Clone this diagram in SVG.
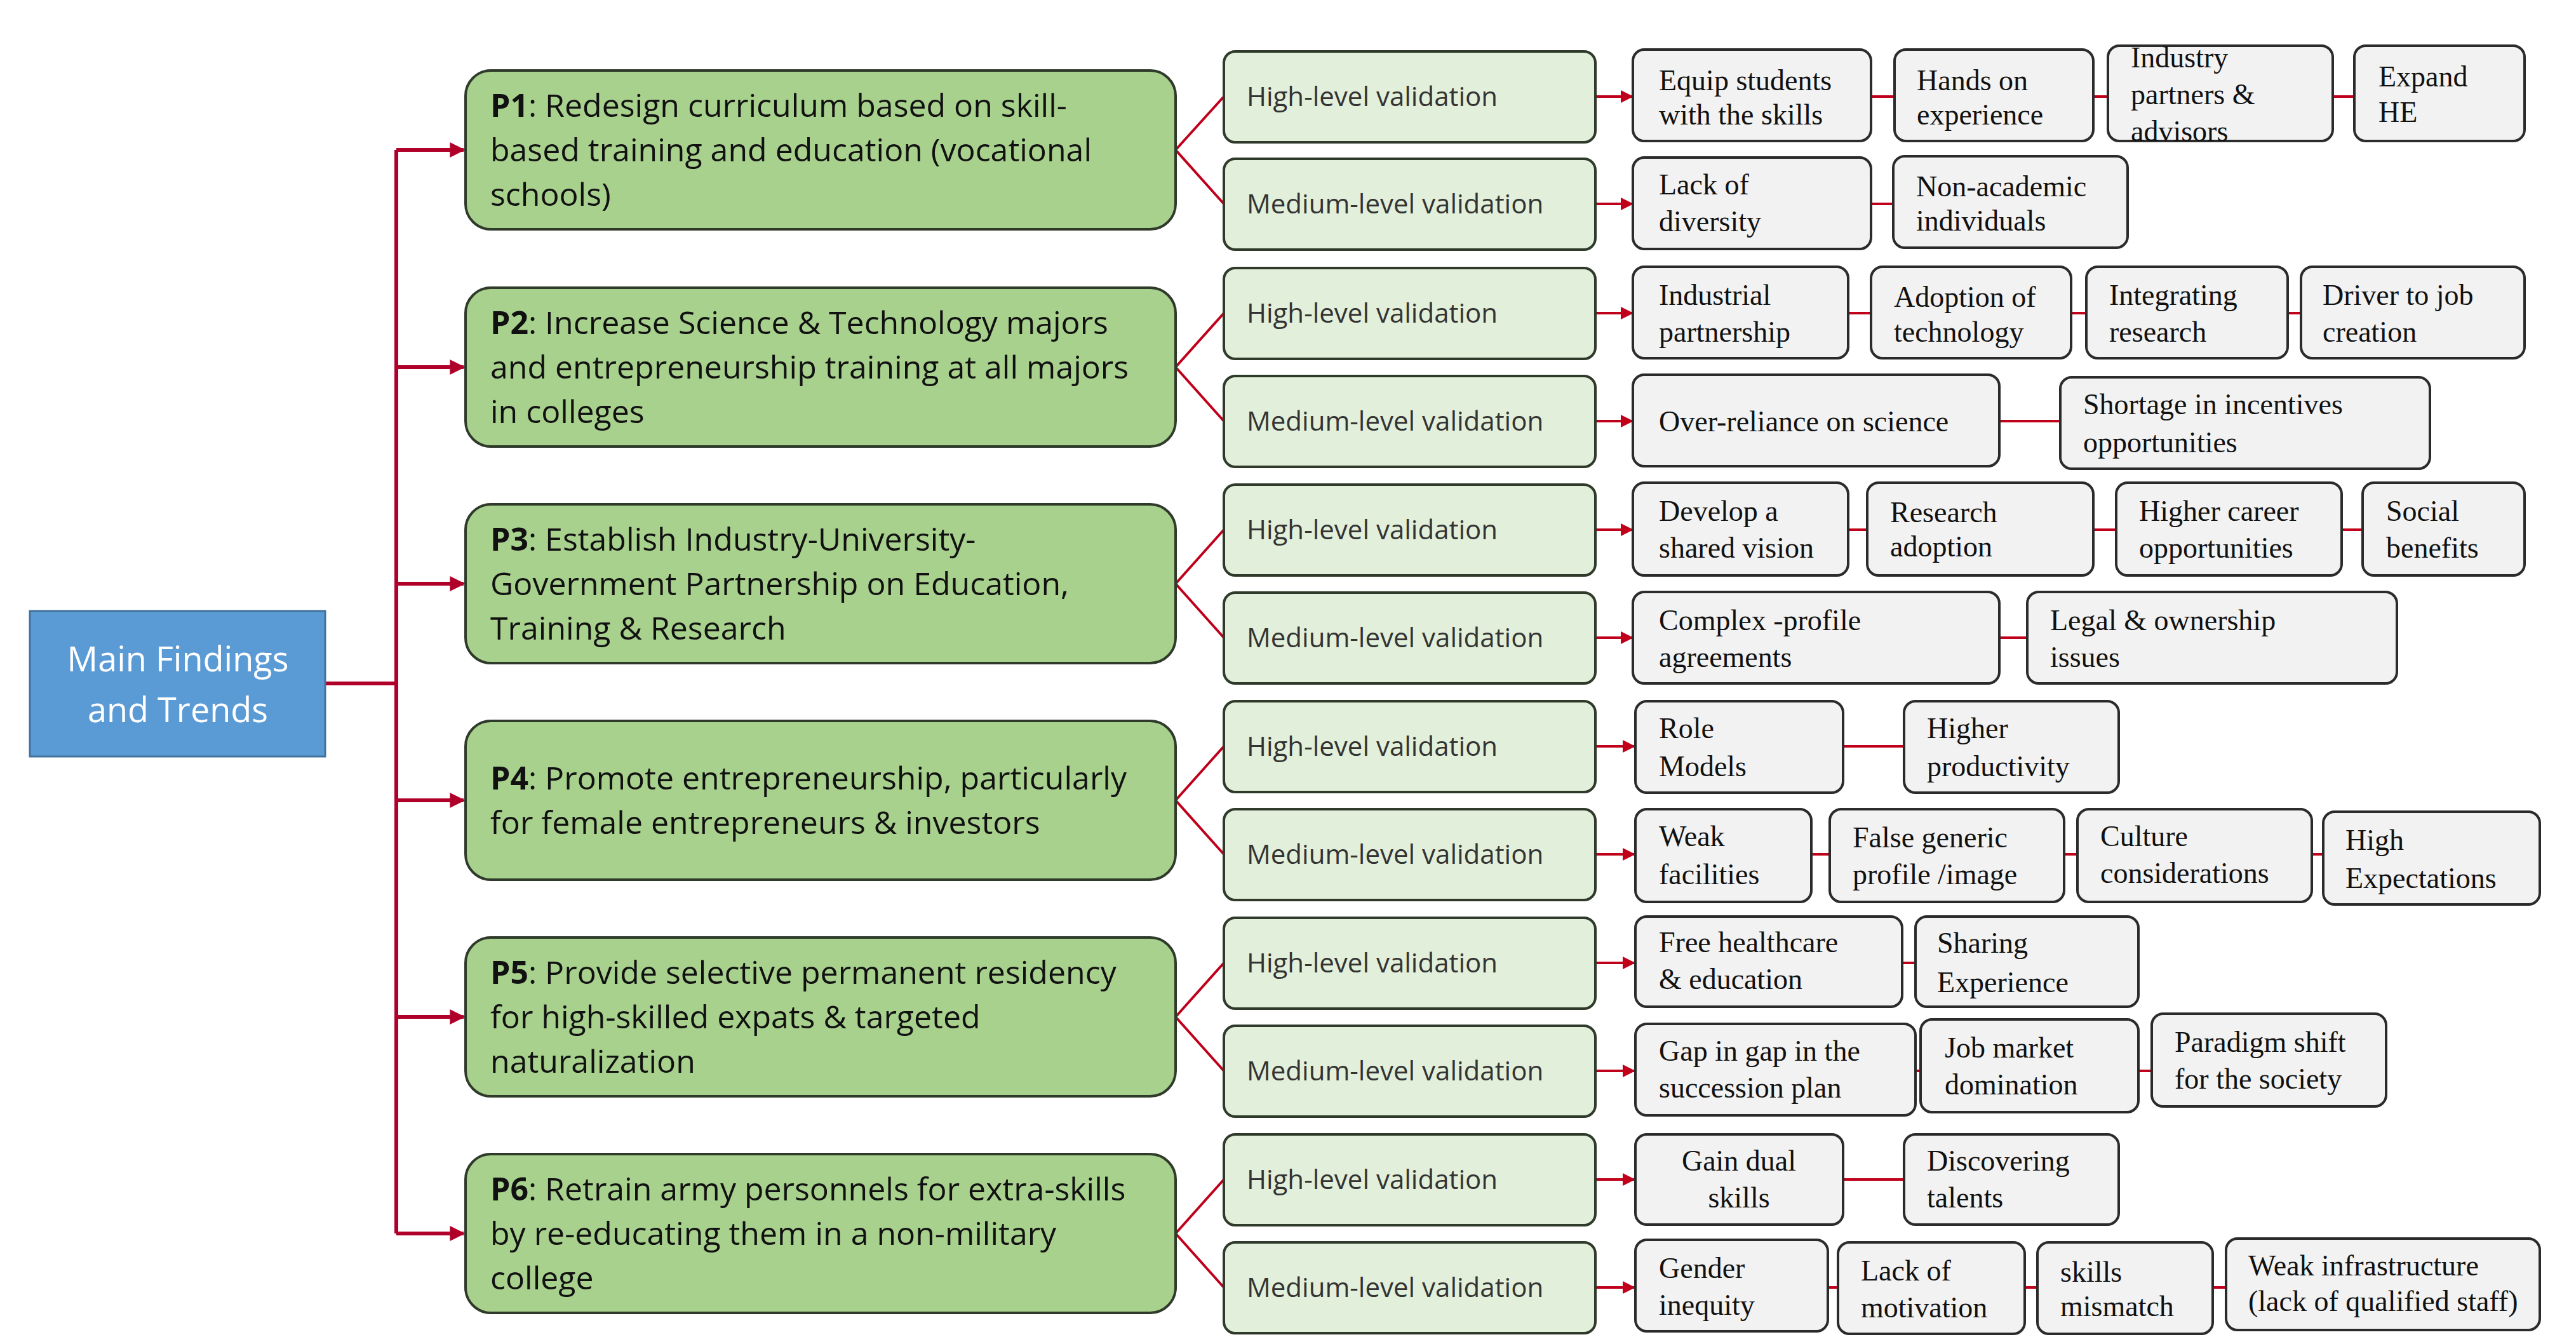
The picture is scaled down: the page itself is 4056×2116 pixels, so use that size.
<svg xmlns="http://www.w3.org/2000/svg" width="4056" height="2116" viewBox="0 0 4056 2116">
<style>
.p{fill:#a9d18e;stroke:#2f3a2a;stroke-width:4}
.v{fill:#e2efda;stroke:#2f3a2a;stroke-width:4}
.i{fill:#f2f2f2;stroke:#2b2b2b;stroke-width:4}
.pt{font-family:"Open Sans","Liberation Sans",sans-serif;font-size:50px;fill:#111}
.vt{font-family:"Open Sans","Liberation Sans",sans-serif;font-size:42px;fill:#333}
.it{font-family:"Liberation Serif",serif;font-size:46px;fill:#111}
.c{stroke:#c0001a;stroke-width:4;fill:none}
.t{stroke:#b0002a;stroke-width:6;fill:none}
.ca{stroke:#c0001a;stroke-width:4;fill:none;marker-end:url(#a)}
.ta{stroke:#b0002a;stroke-width:6;fill:none;marker-end:url(#b)}
</style>
<defs>
<marker id="a" viewBox="0 0 10 10" refX="9" refY="5" markerWidth="5" markerHeight="5" orient="auto"><path d="M0,0L10,5L0,10z" fill="#c0001a"/></marker>
<marker id="b" viewBox="0 0 10 10" refX="9" refY="5" markerWidth="4" markerHeight="4" orient="auto"><path d="M0,0L10,5L0,10z" fill="#b0002a"/></marker>
</defs>
<g id="connectors">
<path class="t" d="M512,1076H624M624,236V1942"/>
<path class="ta" d="M624,236H730"/><path class="ta" d="M624,578H730"/><path class="ta" d="M624,919H730"/><path class="ta" d="M624,1260H730"/><path class="ta" d="M624,1601H730"/><path class="ta" d="M624,1942H730"/>
<path class="c" d="M1851,236L1927,152M1851,236L1927,321M1851,578L1927,493M1851,578L1927,663M1851,919L1927,834M1851,919L1927,1004M1851,1260L1927,1175M1851,1260L1927,1345M1851,1601L1927,1516M1851,1601L1927,1686M1851,1942L1927,1857M1851,1942L1927,2027"/>
<path class="ca" d="M2512,152H2570"/><path class="ca" d="M2512,321H2570"/><path class="ca" d="M2512,493H2570"/><path class="ca" d="M2512,663H2570"/><path class="ca" d="M2512,834H2570"/><path class="ca" d="M2512,1004H2570"/><path class="ca" d="M2512,1175H2573"/><path class="ca" d="M2512,1345H2573"/><path class="ca" d="M2512,1516H2573"/><path class="ca" d="M2512,1686H2573"/><path class="ca" d="M2512,1857H2573"/><path class="ca" d="M2512,2027H2573"/>
<path class="c" d="M2946,152H2983M3296,152H3319M3673,152H3707M2946,321H2981M2910,493H2946M3261,493H3285M3602,493H3623M3148,663H3244M2910,834H2940M3296,834H3332M3687,834H3720M3148,1004H3192M2902,1175H2998M2852,1345H2881M3250,1345H3271M3640,1345H3658M2995,1516H3016M3016,1686H3024M3367,1686H3388M2902,1857H2998M2878,2027H2894M3188,2027H3208M3484,2027H3505"/>
</g>
<g id="main"><rect x="47" y="962" width="465" height="229" fill="#5b9bd5" stroke="#41719c" stroke-width="3"/><text x="280" y="1057" text-anchor="middle" font-family="Open Sans,Liberation Sans,sans-serif" font-size="54" fill="#fff">Main Findings</text><text x="280" y="1137" text-anchor="middle" font-family="Open Sans,Liberation Sans,sans-serif" font-size="54" fill="#fff">and Trends</text></g>
<g id="p1"><rect class="p" x="733" y="111" width="1118" height="250" rx="40"/><text class="pt" x="772" y="184"><tspan font-weight="bold">P1</tspan>: Redesign curriculum based on skill-</text><text class="pt" x="772" y="254">based training and education (vocational</text><text class="pt" x="772" y="324">schools)</text></g>
<g id="p2"><rect class="p" x="733" y="453" width="1118" height="250" rx="40"/><text class="pt" x="772" y="526"><tspan font-weight="bold">P2</tspan>: Increase Science &amp; Technology majors</text><text class="pt" x="772" y="596">and entrepreneurship training at all majors</text><text class="pt" x="772" y="666">in colleges</text></g>
<g id="p3"><rect class="p" x="733" y="794" width="1118" height="250" rx="40"/><text class="pt" x="772" y="867"><tspan font-weight="bold">P3</tspan>: Establish Industry-University-</text><text class="pt" x="772" y="937">Government Partnership on Education,</text><text class="pt" x="772" y="1007">Training &amp; Research</text></g>
<g id="p4"><rect class="p" x="733" y="1135" width="1118" height="250" rx="40"/><text class="pt" x="772" y="1243"><tspan font-weight="bold">P4</tspan>: Promote entrepreneurship, particularly</text><text class="pt" x="772" y="1313">for female entrepreneurs &amp; investors</text></g>
<g id="p5"><rect class="p" x="733" y="1476" width="1118" height="250" rx="40"/><text class="pt" x="772" y="1549"><tspan font-weight="bold">P5</tspan>: Provide selective permanent residency</text><text class="pt" x="772" y="1619">for high-skilled expats &amp; targeted</text><text class="pt" x="772" y="1689">naturalization</text></g>
<g id="p6"><rect class="p" x="733" y="1817" width="1118" height="250" rx="40"/><text class="pt" x="772" y="1890"><tspan font-weight="bold">P6</tspan>: Retrain army personnels for extra-skills</text><text class="pt" x="772" y="1960">by re-educating them in a non-military</text><text class="pt" x="772" y="2030">college</text></g>
<g id="v1h"><rect class="v" x="1927" y="81" width="585" height="143" rx="18"/><text class="vt" x="1963" y="167">High-level validation</text></g>
<g id="v1m"><rect class="v" x="1927" y="250" width="585" height="143" rx="18"/><text class="vt" x="1963" y="336">Medium-level validation</text></g>
<g id="v2h"><rect class="v" x="1927" y="422" width="585" height="143" rx="18"/><text class="vt" x="1963" y="508">High-level validation</text></g>
<g id="v2m"><rect class="v" x="1927" y="592" width="585" height="143" rx="18"/><text class="vt" x="1963" y="678">Medium-level validation</text></g>
<g id="v3h"><rect class="v" x="1927" y="763" width="585" height="143" rx="18"/><text class="vt" x="1963" y="849">High-level validation</text></g>
<g id="v3m"><rect class="v" x="1927" y="933" width="585" height="143" rx="18"/><text class="vt" x="1963" y="1019">Medium-level validation</text></g>
<g id="v4h"><rect class="v" x="1927" y="1104" width="585" height="143" rx="18"/><text class="vt" x="1963" y="1190">High-level validation</text></g>
<g id="v4m"><rect class="v" x="1927" y="1274" width="585" height="143" rx="18"/><text class="vt" x="1963" y="1360">Medium-level validation</text></g>
<g id="v5h"><rect class="v" x="1927" y="1445" width="585" height="143" rx="18"/><text class="vt" x="1963" y="1531">High-level validation</text></g>
<g id="v5m"><rect class="v" x="1927" y="1615" width="585" height="143" rx="18"/><text class="vt" x="1963" y="1701">Medium-level validation</text></g>
<g id="v6h"><rect class="v" x="1927" y="1786" width="585" height="143" rx="18"/><text class="vt" x="1963" y="1872">High-level validation</text></g>
<g id="v6m"><rect class="v" x="1927" y="1956" width="585" height="143" rx="18"/><text class="vt" x="1963" y="2042">Medium-level validation</text></g>
<g id="i11"><rect class="i" x="2571" y="78" width="375" height="144" rx="18"/><text class="it" x="2612" y="142" font-size="42">Equip students</text><text class="it" x="2612" y="196" font-size="42">with the skills</text></g>
<g id="i12"><rect class="i" x="2983" y="78" width="313" height="144" rx="18"/><text class="it" x="3018" y="142" font-size="42">Hands on</text><text class="it" x="3018" y="196" font-size="42">experience</text></g>
<g id="i13"><rect class="i" x="3319" y="72" width="354" height="150" rx="18"/><text class="it" x="3355" y="106">Industry</text><text class="it" x="3355" y="164">partners &amp;</text><text class="it" x="3355" y="222">advisors</text></g>
<g id="i14"><rect class="i" x="3707" y="72" width="268" height="150" rx="18"/><text class="it" x="3745" y="136">Expand</text><text class="it" x="3745" y="192">HE</text></g>
<g id="i15"><rect class="i" x="2571" y="248" width="375" height="144" rx="18"/><text class="it" x="2612" y="306" font-size="50">Lack of</text><text class="it" x="2612" y="364" font-size="50">diversity</text></g>
<g id="i16"><rect class="i" x="2981" y="246" width="369" height="144" rx="18"/><text class="it" x="3017" y="309" font-size="42">Non-academic</text><text class="it" x="3017" y="363" font-size="42">individuals</text></g>
<g id="i21"><rect class="i" x="2571" y="420" width="339" height="144" rx="18"/><text class="it" x="2612" y="480">Industrial</text><text class="it" x="2612" y="538">partnership</text></g>
<g id="i22"><rect class="i" x="2946" y="420" width="315" height="144" rx="18"/><text class="it" x="2982" y="483" font-size="43">Adoption of</text><text class="it" x="2982" y="538" font-size="43">technology</text></g>
<g id="i23"><rect class="i" x="3285" y="420" width="317" height="144" rx="18"/><text class="it" x="3321" y="480">Integrating</text><text class="it" x="3321" y="538">research</text></g>
<g id="i24"><rect class="i" x="3623" y="420" width="352" height="144" rx="18"/><text class="it" x="3657" y="480">Driver to job</text><text class="it" x="3657" y="538">creation</text></g>
<g id="i25"><rect class="i" x="2571" y="590" width="577" height="144" rx="18"/><text class="it" x="2612" y="679">Over-reliance on science</text></g>
<g id="i26"><rect class="i" x="3244" y="594" width="582" height="144" rx="18"/><text class="it" x="3280" y="652">Shortage in incentives</text><text class="it" x="3280" y="712">opportunities</text></g>
<g id="i31"><rect class="i" x="2571" y="760" width="339" height="146" rx="18"/><text class="it" x="2612" y="820">Develop a</text><text class="it" x="2612" y="878">shared vision</text></g>
<g id="i32"><rect class="i" x="2940" y="760" width="356" height="146" rx="18"/><text class="it" x="2976" y="822" font-size="42">Research</text><text class="it" x="2976" y="876" font-size="42">adoption</text></g>
<g id="i33"><rect class="i" x="3332" y="760" width="355" height="146" rx="18"/><text class="it" x="3368" y="820">Higher career</text><text class="it" x="3368" y="878">opportunities</text></g>
<g id="i34"><rect class="i" x="3720" y="760" width="255" height="146" rx="18"/><text class="it" x="3757" y="820">Social</text><text class="it" x="3757" y="878">benefits</text></g>
<g id="i35"><rect class="i" x="2571" y="932" width="577" height="144" rx="18"/><text class="it" x="2612" y="992">Complex -profile</text><text class="it" x="2612" y="1050">agreements</text></g>
<g id="i36"><rect class="i" x="3192" y="932" width="582" height="144" rx="18"/><text class="it" x="3228" y="992">Legal &amp; ownership</text><text class="it" x="3228" y="1050">issues</text></g>
<g id="i41"><rect class="i" x="2575" y="1104" width="327" height="144" rx="18"/><text class="it" x="2612" y="1162" font-size="50">Role</text><text class="it" x="2612" y="1222" font-size="50">Models</text></g>
<g id="i42"><rect class="i" x="2998" y="1104" width="338" height="144" rx="18"/><text class="it" x="3034" y="1162" font-size="50">Higher</text><text class="it" x="3034" y="1222" font-size="50">productivity</text></g>
<g id="i43"><rect class="i" x="2575" y="1274" width="277" height="146" rx="18"/><text class="it" x="2612" y="1332" font-size="50">Weak</text><text class="it" x="2612" y="1392" font-size="50">facilities</text></g>
<g id="i44"><rect class="i" x="2881" y="1274" width="369" height="146" rx="18"/><text class="it" x="2917" y="1334" fill="#444">False generic</text><text class="it" x="2917" y="1392" fill="#444">profile /image</text></g>
<g id="i45"><rect class="i" x="3271" y="1274" width="369" height="146" rx="18"/><text class="it" x="3307" y="1332" fill="#444">Culture</text><text class="it" x="3307" y="1390" fill="#444">considerations</text></g>
<g id="i46"><rect class="i" x="3658" y="1278" width="341" height="146" rx="18"/><text class="it" x="3693" y="1338" font-size="50">High</text><text class="it" x="3693" y="1398" font-size="50">Expectations</text></g>
<g id="i51"><rect class="i" x="2575" y="1443" width="420" height="142" rx="18"/><text class="it" x="2612" y="1499">Free healthcare</text><text class="it" x="2612" y="1557">&amp; education</text></g>
<g id="i52"><rect class="i" x="3016" y="1443" width="351" height="142" rx="18"/><text class="it" x="3050" y="1500" font-size="54">Sharing</text><text class="it" x="3050" y="1562" font-size="54">Experience</text></g>
<g id="i53"><rect class="i" x="2575" y="1612" width="441" height="144" rx="18"/><text class="it" x="2612" y="1670">Gap in gap in the</text><text class="it" x="2612" y="1728">succession plan</text></g>
<g id="i54"><rect class="i" x="3024" y="1605" width="343" height="146" rx="18"/><text class="it" x="3062" y="1665">Job market</text><text class="it" x="3062" y="1723">domination</text></g>
<g id="i55"><rect class="i" x="3388" y="1596" width="369" height="146" rx="18"/><text class="it" x="3424" y="1656">Paradigm shift</text><text class="it" x="3424" y="1714">for the society</text></g>
<g id="i61"><rect class="i" x="2575" y="1786" width="327" height="142" rx="18"/><text class="it" x="2738" y="1843" text-anchor="middle">Gain dual</text><text class="it" x="2738" y="1901" text-anchor="middle">skills</text></g>
<g id="i62"><rect class="i" x="2998" y="1786" width="338" height="142" rx="18"/><text class="it" x="3034" y="1843">Discovering</text><text class="it" x="3034" y="1901">talents</text></g>
<g id="i63"><rect class="i" x="2575" y="1952" width="303" height="144" rx="18"/><text class="it" x="2612" y="2012">Gender</text><text class="it" x="2612" y="2070">inequity</text></g>
<g id="i64"><rect class="i" x="2894" y="1956" width="294" height="144" rx="18"/><text class="it" x="2930" y="2016" font-size="50">Lack of</text><text class="it" x="2930" y="2074" font-size="50">motivation</text></g>
<g id="i65"><rect class="i" x="3208" y="1956" width="276" height="144" rx="18"/><text class="it" x="3244" y="2018" font-size="42">skills</text><text class="it" x="3244" y="2072" font-size="42">mismatch</text></g>
<g id="i66"><rect class="i" x="3505" y="1950" width="494" height="144" rx="18"/><text class="it" x="3540" y="2008" font-size="42">Weak infrastructure</text><text class="it" x="3540" y="2064" font-size="42">(lack of qualified staff)</text></g>
</svg>
